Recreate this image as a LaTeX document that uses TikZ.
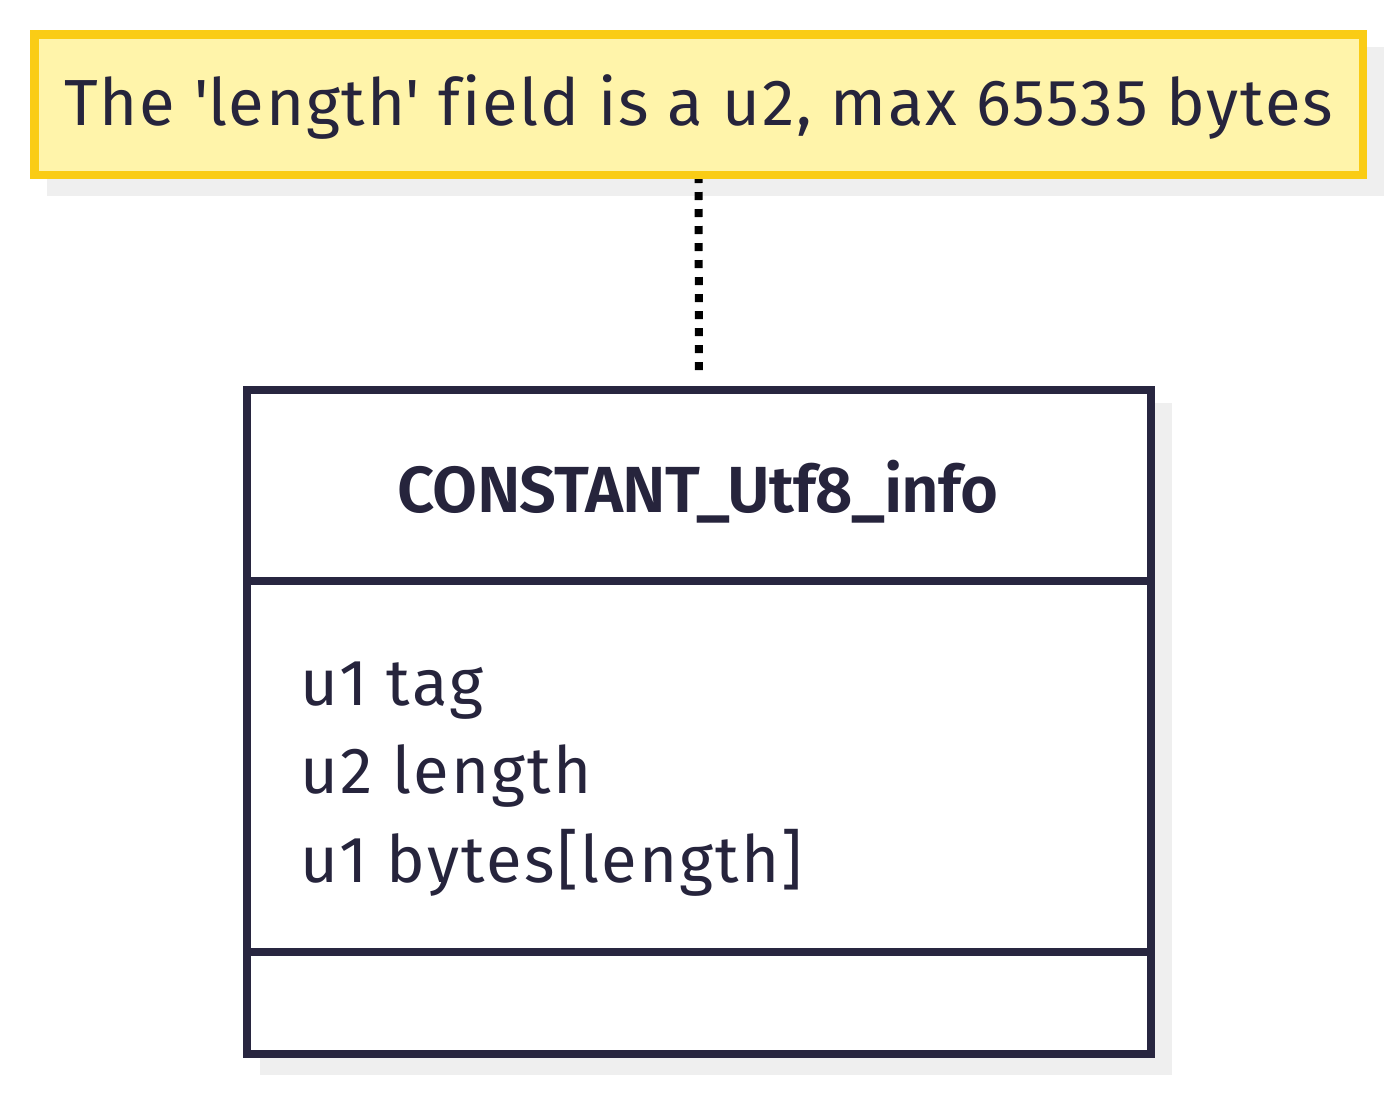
\documentclass[tikz,border=0pt]{standalone}
\usepackage{fontspec}
\setmainfont[LetterSpace=2.7,Ligatures=NoCommon]{Fira Sans}
\newfontfamily\fieldfont[LetterSpace=3.4,Ligatures=NoCommon]{Fira Sans}
\newfontfamily\titlefont[LetterSpace=-1.2,Ligatures=NoCommon]{Fira Sans SemiBold}
\usetikzlibrary{backgrounds}
\definecolor{inkc}{RGB}{38,36,60}
\definecolor{strokec}{RGB}{40,38,64}
\definecolor{notefill}{RGB}{255,244,170}
\definecolor{noteborder}{RGB}{250,204,21}
\definecolor{shadowc}{RGB}{239,239,239}
\tikzset{
  notebox/.style={draw=noteborder, fill=notefill, line width=4.25pt,
    minimum width=664.25pt, minimum height=70.25pt, inner sep=0pt},
  classbox/.style={draw=strokec, fill=white, line width=4pt,
    minimum width=452pt, minimum height=332pt, inner sep=0pt},
  divider/.style={draw=strokec, line width=4pt},
  dotline/.style={draw=black, line width=4pt, dash pattern=on 4pt off 4.5pt},
  txt/.style={text=inkc, inner sep=0pt, font=\fontsize{32.6}{39}\selectfont},
  fieldtxt/.style={txt, font=\fontsize{32.6}{39}\selectfont\fieldfont},
  boldtxt/.style={txt, font=\fontsize{32.6}{39}\selectfont\titlefont},
}
\begin{document}
\begin{tikzpicture}[x=0.5pt,y=-0.5pt]
\useasboundingbox (0,0) rectangle (1400,1093);
\node[notebox] (note) at (698.5,104.5) {};
\node[classbox] (cls) at (699,722) {};
\begin{scope}[on background layer]
  \fill[shadowc] ([shift={(17,17)}]note.north west) rectangle ([shift={(17,17)}]note.south east);
  \fill[shadowc] ([shift={(17,17)}]cls.north west) rectangle ([shift={(17,17)}]cls.south east);
  \draw[dotline, shorten >=7pt] ([shift={(0,-4)}]note.south) -- (cls.north);
\end{scope}
\coordinate (d1w) at (cls.west |- 0,581);
\coordinate (d1e) at (cls.east |- 0,581);
\coordinate (d2w) at (cls.west |- 0,952);
\coordinate (d2e) at (cls.east |- 0,952);
\draw[divider] (d1w) -- (d1e);
\draw[divider] (d2w) -- (d2e);
\node[txt, anchor=base] (notetext) at (698.5,125) {The \textquotesingle length\textquotesingle\ field is a u2, max 65535 bytes};
\node[boldtxt, anchor=base] (title) at (698,512) {CONSTANT\_Utf8\_info};
\node[fieldtxt, anchor=base west] (f1) at (300,705) {u1 tag};
\node[fieldtxt, anchor=base west] (f2) at (300,793) {u2 length};
\node[fieldtxt, anchor=base west] (f3) at (300,882) {u1 bytes[length]};
\end{tikzpicture}
\end{document}
